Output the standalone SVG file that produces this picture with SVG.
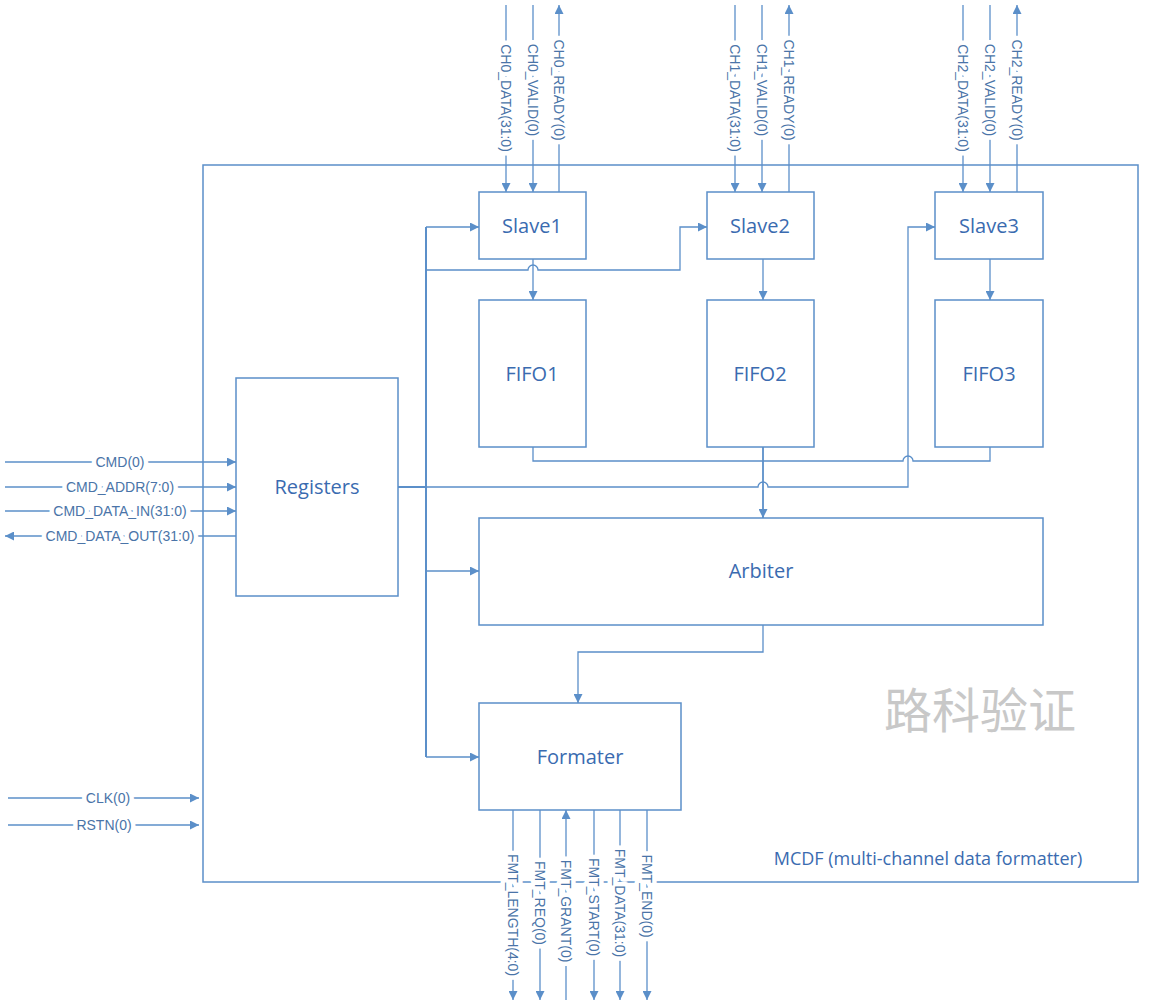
<svg xmlns="http://www.w3.org/2000/svg" width="1155" height="1004" viewBox="0 0 1155 1004">
<style>
.b{fill:#fff;stroke:#5b8fc9;stroke-width:1.5}
.l path{fill:none;stroke:#5b8fc9;stroke-width:1.3}
.t{font-family:"Open Sans","Liberation Sans",sans-serif;fill:#3a6bb0;font-size:20px;text-anchor:middle}
.s{font-family:"Liberation Sans",sans-serif;fill:#4a74a8;font-size:14px;text-anchor:middle;stroke:#fff;stroke-width:9;stroke-linejoin:round;paint-order:stroke;dominant-baseline:central}
</style>
<defs><marker id="a" viewBox="0 0 10 10" refX="10" refY="5" markerWidth="9" markerHeight="9" orient="auto-start-reverse" markerUnits="userSpaceOnUse"><path d="M0,0L10,5L0,10z" fill="#5b8fc9"/></marker></defs>
<rect x="203" y="165" width="935" height="717" fill="none" stroke="#5b8fc9" stroke-width="1.5"/>
<g id="connectors" class="l">
<path d="M506 5V192" marker-end="url(#a)"/><path d="M533 5V192" marker-end="url(#a)"/>
<path d="M735 5V192" marker-end="url(#a)"/><path d="M762 5V192" marker-end="url(#a)"/>
<path d="M963 5V192" marker-end="url(#a)"/><path d="M990 5V192" marker-end="url(#a)"/>
<path d="M559 192V5" marker-end="url(#a)"/><path d="M789 192V5" marker-end="url(#a)"/><path d="M1017 192V5" marker-end="url(#a)"/>
<path d="M5 462H236" marker-end="url(#a)"/><path d="M5 487H236" marker-end="url(#a)"/><path d="M5 511H236" marker-end="url(#a)"/>
<path d="M236 536H5" marker-end="url(#a)"/>
<path d="M8 798H199" marker-end="url(#a)"/><path d="M8 825H199" marker-end="url(#a)"/>
<path d="M513 810V1000" marker-end="url(#a)"/><path d="M540 810V1000" marker-end="url(#a)"/>
<path d="M594 810V1000" marker-end="url(#a)"/><path d="M620 810V1000" marker-end="url(#a)"/><path d="M647 810V1000" marker-end="url(#a)"/>
<path d="M566 1000V810" marker-end="url(#a)"/>
<path d="M533 259V300" marker-end="url(#a)"/><path d="M763 259V300" marker-end="url(#a)"/><path d="M990 259V300" marker-end="url(#a)"/>
<path d="M398 487H426M426 227V757" style="stroke-width:2"/>
<path d="M426 227H479" marker-end="url(#a)"/><path d="M426 571H479" marker-end="url(#a)"/><path d="M426 757H479" marker-end="url(#a)"/>
<path d="M426 270H528a5 5 0 0 1 10 0H680V227H707" marker-end="url(#a)"/>
<path d="M426 487H758a5 5 0 0 1 10 0H908V227H935" marker-end="url(#a)"/>
<path d="M533 447V461H903a5 5 0 0 1 10 0H990V447"/>
<path d="M763 447V518" marker-end="url(#a)" style="stroke-width:1.8"/>
<path d="M763 625V652H578V703" marker-end="url(#a)"/>
</g>
<g id="slave1"><rect class="b" x="479" y="192" width="107" height="67"/><text class="t" x="532" y="233">Slave1</text></g>
<g id="slave2"><rect class="b" x="707" y="192" width="107" height="67"/><text class="t" x="760" y="233">Slave2</text></g>
<g id="slave3"><rect class="b" x="935" y="192" width="108" height="67"/><text class="t" x="989" y="233">Slave3</text></g>
<g id="fifo1"><rect class="b" x="479" y="300" width="107" height="147"/><text class="t" x="532" y="381">FIFO1</text></g>
<g id="fifo2"><rect class="b" x="707" y="300" width="107" height="147"/><text class="t" x="760" y="381">FIFO2</text></g>
<g id="fifo3"><rect class="b" x="935" y="300" width="108" height="147"/><text class="t" x="989" y="381">FIFO3</text></g>
<g id="registers"><rect class="b" x="236" y="378" width="162" height="218"/><text class="t" x="317" y="494">Registers</text></g>
<g id="arbiter"><rect class="b" x="479" y="518" width="564" height="107"/><text class="t" x="761" y="578">Arbiter</text></g>
<g id="formater"><rect class="b" x="479" y="703" width="202" height="107"/><text class="t" x="580" y="764">Formater</text></g>
<g id="labels">
<text class="s" transform="translate(506,98) rotate(90)">CH0_DATA(31:0)</text>
<text class="s" transform="translate(533,90) rotate(90)">CH0_VALID(0)</text>
<text class="s" transform="translate(559,90) rotate(90)">CH0_READY(0)</text>
<text class="s" transform="translate(735,98) rotate(90)">CH1_DATA(31:0)</text>
<text class="s" transform="translate(762,90) rotate(90)">CH1_VALID(0)</text>
<text class="s" transform="translate(789,90) rotate(90)">CH1_READY(0)</text>
<text class="s" transform="translate(963,98) rotate(90)">CH2_DATA(31:0)</text>
<text class="s" transform="translate(990,90) rotate(90)">CH2_VALID(0)</text>
<text class="s" transform="translate(1017,90) rotate(90)">CH2_READY(0)</text>
<text class="s" x="120" y="462">CMD(0)</text>
<text class="s" x="120" y="487">CMD_ADDR(7:0)</text>
<text class="s" x="120" y="511">CMD_DATA_IN(31:0)</text>
<text class="s" x="120" y="536">CMD_DATA_OUT(31:0)</text>
<text class="s" x="108" y="798">CLK(0)</text>
<text class="s" x="104" y="825">RSTN(0)</text>
<text class="s" transform="translate(513,915) rotate(90)">FMT_LENGTH(4:0)</text>
<text class="s" transform="translate(540,903) rotate(90)">FMT_REQ(0)</text>
<text class="s" transform="translate(566,911) rotate(90)">FMT_GRANT(0)</text>
<text class="s" transform="translate(594,907) rotate(90)">FMT_START(0)</text>
<text class="s" transform="translate(620,903) rotate(90)">FMT_DATA(31:0)</text>
<text class="s" transform="translate(647,896) rotate(90)">FMT_END(0)</text>
<text x="928" y="865" style="font-family:'Open Sans','Liberation Sans',sans-serif;font-size:18px;fill:#3a6bb0;text-anchor:middle">MCDF (multi-channel data formatter)</text>
<text x="980" y="728" style="font-family:'Noto Sans CJK SC',sans-serif;font-size:48px;fill:#c8c8c8;text-anchor:middle">路科验证</text>
</g>
</svg>
